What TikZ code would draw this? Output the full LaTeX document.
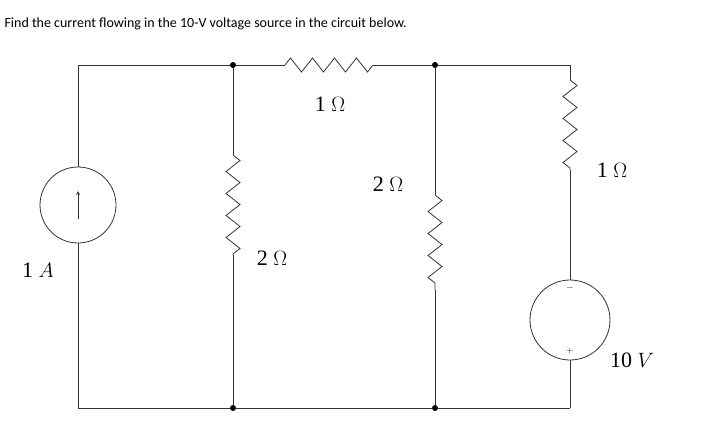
\documentclass[tikz,border=0pt]{standalone}
\usepackage{fontspec}
\setmainfont{Liberation Serif}
\newfontfamily\titlefont{Carlito}
\usetikzlibrary{decorations.pathmorphing}
\tikzset{
  wire/.style={thick, black!80},
  res/.style={wire, decorate, decoration={zigzag, segment length=22pt, amplitude=7pt}},
  dot/.style={circle, fill=black, inner sep=0pt, minimum size=6pt},
  lab/.style={font=\fontsize{22}{22}\selectfont}
}
\begin{document}
\begin{tikzpicture}[x=1pt, y=-1pt]
            \useasboundingbox (0,0) rectangle (708,425);
            \node[anchor=west, font=\titlefont\fontsize{14}{14}\selectfont] at (1,24) {Find the current flowing in the 10-V voltage source in the circuit below.};

            % Corners and junctions
            \coordinate (tl) at (78,65);
            \coordinate (bl) at (78,408);
            \coordinate (tr) at (570,65);
            \coordinate (br) at (570,408);
            \node[dot] (ta) at (233,65) {};
            \node[dot] (tb) at (435,65) {};
            \node[dot] (ba) at (233,408) {};
            \node[dot] (bb) at (435,408) {};

            % Top 1 Ohm
            \coordinate (r1a) at (285,65);
            \coordinate (r1b) at (373,65);
            \draw[wire] (tl) -- (ta) -- (r1a);
            \draw[res] (r1a) -- (r1b);
            \draw[wire] (r1b) -- (tb) -- (tr);
            \node[lab] at (330,104) {1 $\Omega$};

            % Current source
            \node[draw, wire, circle, minimum size=76pt] (cs) at (78,205) {};
            \draw[wire] (tl) -- (cs.north);
            \draw[wire] (cs.south) -- (bl);
            \draw[wire, ->, >=stealth] ([yshift=-14pt]cs.center) -- ([yshift=14pt]cs.center);
            \node[lab] at (38,270) {1 $A$};

            % Left 2 Ohm
            \coordinate (r2a) at (233,155);
            \coordinate (r2b) at (233,255);
            \draw[wire] (ta) -- (r2a);
            \draw[res] (r2a) -- (r2b);
            \draw[wire] (r2b) -- (ba);
            \node[lab] at (272,258) {2 $\Omega$};

            % Middle 2 Ohm
            \coordinate (r3a) at (435,195);
            \coordinate (r3b) at (435,290);
            \draw[wire] (tb) -- (r3a);
            \draw[res] (r3a) -- (r3b);
            \draw[wire] (r3b) -- (bb);
            \node[lab] at (388,184) {2 $\Omega$};

            % Right branch
            \coordinate (r4a) at (570,80);
            \coordinate (r4b) at (570,170);
            \draw[wire] (tr) -- (r4a);
            \draw[res] (r4a) -- (r4b);
            \node[lab] at (612,170) {1 $\Omega$};
            \node[draw, wire, circle, minimum size=80pt] (vs) at (570,320) {};
            \draw[wire] (r4b) -- (vs.north);
            \draw[wire] (vs.south) -- (br);
            \node[font=\small] at ([yshift=-9pt]vs.north) {$-$};
            \node[font=\small] at ([yshift=9pt]vs.south) {$+$};
            \node[lab] at (632,360) {10 $V$};

            % Bottom wire
            \draw[wire] (bl) -- (ba) -- (bb) -- (br);
        \end{tikzpicture}
\end{document}
